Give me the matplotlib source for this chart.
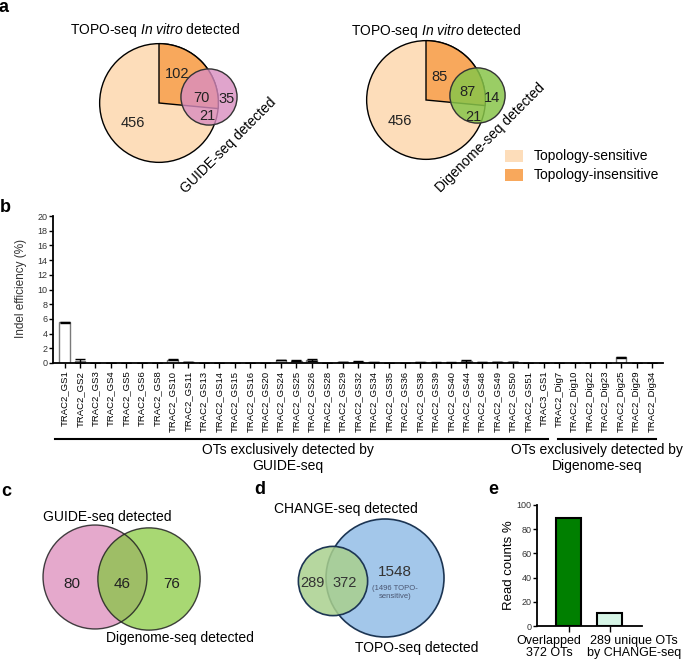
import matplotlib.pyplot as plt
from matplotlib.patches import Circle, Wedge, Rectangle
import numpy as np

plt.rcParams['font.family'] = ['Liberation Sans', 'DejaVu Sans']
plt.rcParams['mathtext.fontset'] = 'custom'
plt.rcParams['mathtext.rm'] = 'Liberation Sans'
plt.rcParams['mathtext.it'] = 'Liberation Sans:italic'

W, H = 685, 661

# ---- data ----
# panel a: [TOPO-sensitive only, TOPO-insensitive only, insensitive & other, sensitive & other, other only]
a_guide_counts = [456, 102, 70, 21, 35]
a_dig_counts = [456, 85, 87, 21, 14]
a_legend = ["Topology-sensitive", "Topology-insensitive"]

# panel b
b_labels = ["TRAC2_GS1", "TRAC2_GS2", "TRAC2_GS3", "TRAC2_GS4", "TRAC2_GS5", "TRAC2_GS6",
            "TRAC2_GS8", "TRAC2_GS10", "TRAC2_GS11", "TRAC2_GS13", "TRAC2_GS14", "TRAC2_GS15",
            "TRAC2_GS16", "TRAC2_GS20", "TRAC2_GS24", "TRAC2_GS25", "TRAC2_GS26", "TRAC2_GS28",
            "TRAC2_GS29", "TRAC2_GS32", "TRAC2_GS34", "TRAC2_GS35", "TRAC2_GS36", "TRAC2_GS38",
            "TRAC2_GS39", "TRAC2_GS40", "TRAC2_GS44", "TRAC2_GS48", "TRAC2_GS49", "TRAC2_GS50",
            "TRAC2_GS51", "TRAC3_GS1",
            "TRAC2_Dig7", "TRAC2_Dig10", "TRAC2_Dig22", "TRAC2_Dig23", "TRAC2_Dig25",
            "TRAC2_Dig29", "TRAC2_Dig34"]
b_values = [5.55, 0.3, 0.02, 0.02, 0.02, 0.02,
            0.02, 0.45, 0.15, 0.02, 0.02, 0.02,
            0.02, 0.02, 0.4, 0.3, 0.4, 0.02,
            0.15, 0.2, 0.1, 0.02, 0.02, 0.08,
            0.05, 0.05, 0.3, 0.08, 0.15, 0.1,
            0.02, 0.02,
            0.02, 0.02, 0.02, 0.02, 0.75,
            0.02, 0.02]
b_errors = [0.05, 0.3, 0.0, 0.0, 0.0, 0.0,
            0.0, 0.05, 0.05, 0.0, 0.0, 0.0,
            0.0, 0.0, 0.05, 0.05, 0.08, 0.0,
            0.05, 0.05, 0.05, 0.0, 0.0, 0.03,
            0.02, 0.02, 0.1, 0.03, 0.05, 0.03,
            0.0, 0.0,
            0.0, 0.0, 0.0, 0.0, 0.05,
            0.0, 0.0]
b_groups = ["OTs exclusively detected by\nGUIDE-seq", "OTs exclusively detected by\nDigenome-seq"]

# panel c: GUIDE only, both, Digenome only
c_counts = [80, 46, 76]
# panel d: CHANGE only, both, TOPO only
d_counts = [289, 372, 1548]
d_note = "(1496 TOPO-\nsensitive)"

# panel e
e_labels = ["Overlapped\n372 OTs", "289 unique OTs\nby CHANGE-seq"]
e_values = [89, 11]

# ---- colours ----
peach = "#FDDDBA"
orange = "#F8A85C"
pink = "#D98DC0"
green_a = "#88C54A"
pink_c = "#E5A9CC"
green_c = "#A8D873"
overlap_c = "#9EBE66"
blue_d = "#A3C7EA"
green_d = "#A9D08E"
navy = "#1C3553"

fig = plt.figure(figsize=(W / 100, H / 100), dpi=100)

ov = fig.add_axes([0, 0, 1, 1])
ov.set_xlim(0, W)
ov.set_ylim(H, 0)
ov.axis("off")


def txt(x, y, s, size=10, **kw):
    ov.text(x, y, s, fontsize=size, ha=kw.pop("ha", "center"), va=kw.pop("va", "center"), **kw)


def px_axes(x0, y0, x1, y1):
    return fig.add_axes([x0 / W, 1 - y1 / H, (x1 - x0) / W, (y1 - y0) / H])


# ---- panel a ----
def topo_venn(cx, cy, counts, scx, scy, sub_color, alpha, offs):
    sens, ins, ins_sub, sens_sub, sub_only = counts
    total = sens + ins + ins_sub + sens_sub
    R = 2.33 * np.sqrt(total)
    r = 2.5 * np.sqrt(ins_sub + sens_sub + sub_only)
    ang = 360 * (ins + ins_sub) / total
    ov.add_patch(Circle((cx, cy), R, fc=peach, ec="black", lw=1))
    ov.add_patch(Wedge((cx, cy), R, 270, 270 + ang, fc=orange, ec="black", lw=1))
    ov.add_patch(Circle((scx, scy), r, fc=sub_color, alpha=alpha, ec="none"))
    ov.add_patch(Circle((scx, scy), r, fc="none", ec="#333333", lw=1))
    vals = [sens, ins, ins_sub, sens_sub, sub_only]
    for v, (dx, dy), base in zip(vals, offs, ["c", "c", "s", "s", "s"]):
        bx, by = (cx, cy) if base == "c" else (scx, scy)
        txt(bx + dx, by + dy, str(v), size=10.5, color="#222222")


topo_venn(159, 103, a_guide_counts, 209, 97, pink, 0.8,
          [(-26, 20), (18, -29), (-8, 1), (-2, 19), (18, 2)])
topo_venn(426, 100, a_dig_counts, 477.5, 95.5, green_a, 0.85,
          [(-26, 21), (14, -23), (-9.5, -3.5), (-4.5, 21.5), (14.5, 2.5)])

title_a = r"TOPO-seq $\mathit{In\ vitro}$ detected"
txt(155, 30, title_a, size=10)
txt(436, 31, title_a, size=10)
txt(228, 146, "GUIDE-seq detected", size=10, rotation=45, rotation_mode="anchor")
txt(490, 138, "Digenome-seq detected", size=10, rotation=45, rotation_mode="anchor")

for i, (lab, col) in enumerate(zip(a_legend, [peach, orange])):
    y = 156 + i * 19
    ov.add_patch(Rectangle((505, y - 6), 18, 12, fc=col, ec="none"))
    txt(534, y, lab, size=10, ha="left")

# ---- panel b ----
axb = px_axes(53, 216, 663, 363)
axb.patch.set_alpha(0)
xb = np.arange(len(b_labels))
axb.bar(xb, b_values, width=0.7, color="white", edgecolor="#7a7a7a", lw=1)
axb.errorbar(xb, b_values, yerr=b_errors, fmt="none", ecolor="black",
             elinewidth=1, capsize=3.5, capthick=1)
sp = (652 - 64.5) / (len(b_labels) - 1)
axb.set_xlim(-(64.5 - 53) / sp, len(b_labels) - 1 + (663 - 652) / sp)
axb.set_ylim(0, 20)
axb.set_yticks(np.arange(0, 21, 2))
axb.set_xticks(xb)
axb.set_xticklabels(b_labels, rotation=90, fontsize=6.8)
axb.tick_params(axis="y", labelsize=6.5, labelcolor="#333333", length=3, width=1, pad=1)
axb.tick_params(axis="x", length=3.5, width=1, pad=2)
for s in ["top", "right"]:
    axb.spines[s].set_visible(False)
for s in ["left", "bottom"]:
    axb.spines[s].set_linewidth(1.3)
axb.set_ylabel("Indel efficiency (%)", fontsize=8.5, color="#333333")
axb.yaxis.set_label_coords(-0.043, 0.51)

ov.plot([55, 548], [439, 439], color="black", lw=1.5)
ov.plot([558, 656], [439, 439], color="black", lw=1.5)
txt(288, 458, b_groups[0], size=10, linespacing=1.15)
txt(597, 458, b_groups[1], size=10, linespacing=1.15)

# ---- panel c ----
kc = 4.63
rc1 = kc * np.sqrt(c_counts[0] + c_counts[1])
rc2 = kc * np.sqrt(c_counts[1] + c_counts[2])
c1 = Circle((95, 577), rc1, fc=pink_c, ec="none")
c2 = Circle((149, 579), rc2, fc=green_c, ec="none")
ov.add_patch(c1)
ov.add_patch(c2)
lens = Circle((149, 579), rc2, fc=overlap_c, ec="none")
ov.add_patch(lens)
lens.set_clip_path(Circle((95, 577), rc1, transform=ov.transData))
ov.add_patch(Circle((95, 577), rc1, fc="none", ec="#222222", lw=1, alpha=0.85))
ov.add_patch(Circle((149, 579), rc2, fc="none", ec="#222222", lw=1, alpha=0.85))
for v, x in zip(c_counts, [72, 122, 172]):
    txt(x, 584, str(v), size=11, color="#222222")
txt(107, 517, "GUIDE-seq detected", size=10)
txt(180, 638, "Digenome-seq detected", size=10)

# ---- panel d ----
kd = 1.3465
rd_big = kd * np.sqrt(d_counts[1] + d_counts[2])
rd_small = kd * np.sqrt(d_counts[0] + d_counts[1])
ov.add_patch(Circle((385, 578), rd_big, fc=blue_d, ec=navy, lw=1.2))
ov.add_patch(Circle((333, 581), rd_small, fc=green_d, alpha=0.85, ec="none"))
ov.add_patch(Circle((333, 581), rd_small, fc="none", ec=navy, lw=1.2))
txt(312, 583, str(d_counts[0]), size=10.5, color="#333333")
txt(345, 583, str(d_counts[1]), size=10.5, color="#333333")
txt(395, 572, str(d_counts[2]), size=11, color="#333333")
txt(395, 592, d_note, size=5.5, color="#4a5570", linespacing=1.2)
txt(346, 509, "CHANGE-seq detected", size=10)
txt(417, 648, "TOPO-seq detected", size=10)

# ---- panel e ----
axe = px_axes(537, 505, 642, 626)
axe.patch.set_alpha(0)
xe = np.arange(len(e_values))
axe.bar(xe, e_values, width=0.6, color=["#007F00", "#D6F5E6"], edgecolor="black", lw=1.5)
axe.set_xlim(-0.77, 1.79)
axe.set_ylim(0, 100)
axe.set_yticks(np.arange(0, 101, 20))
axe.set_xticks(xe)
axe.set_xticklabels([])
axe.tick_params(axis="y", labelsize=6.5, labelcolor="#333333", length=3, width=1, pad=1)
axe.tick_params(axis="x", length=4, width=1)
for s in ["top", "right"]:
    axe.spines[s].set_visible(False)
for s in ["left", "bottom"]:
    axe.spines[s].set_linewidth(1.3)
axe.set_ylabel("Read counts %", fontsize=9.5)
axe.yaxis.set_label_coords(-0.21, 0.5)
# category labels spread wider than the bars, as in the original
for lab, x in zip(e_labels, [549, 634]):
    txt(x, 647, lab, size=9, linespacing=1.1)

# panel letters
for lab, x, y in [("a", 4, 8), ("b", 5, 207), ("c", 6, 491), ("d", 260, 490), ("e", 493, 490)]:
    txt(x, y, lab, size=13, fontweight="bold")

fig.savefig("out.png", dpi=100)
